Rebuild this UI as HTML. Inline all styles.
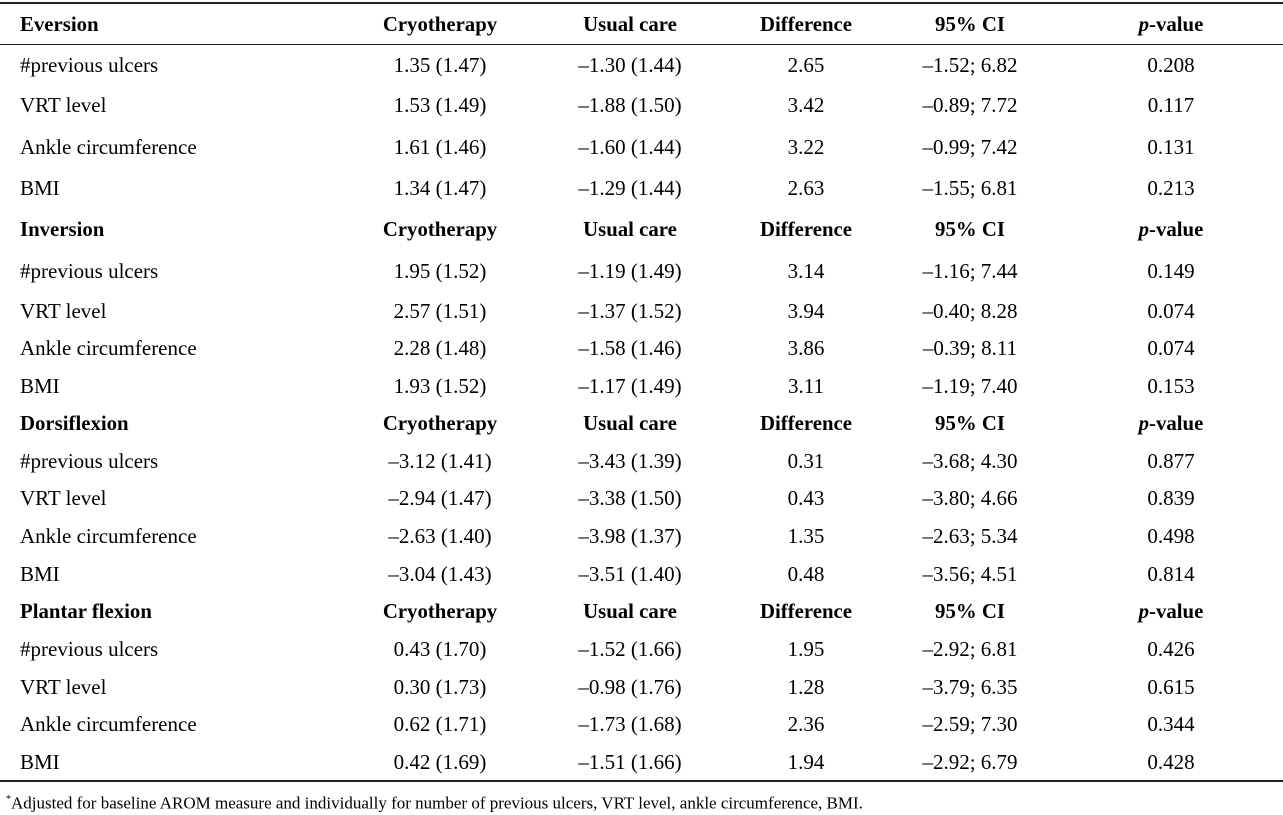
<!DOCTYPE html>
<html><head><style>
body{margin:0;background:#fff;width:1283px;height:815px;position:relative;overflow:hidden;font-family:"Liberation Serif",serif;font-size:21px;color:#000}
.r{position:absolute;left:0;width:1283px;height:24px;line-height:24px}
.r span{position:absolute;white-space:nowrap}
.l{left:20px}
.c{transform:translateX(-50%)}
.b{font-weight:bold;font-size:20.8px}
.line{position:absolute;left:0;width:1283px;background:#222}
</style></head><body>
<div class="line" style="top:2px;height:2px"></div>
<div class="line" style="top:44px;height:1px"></div>
<div class="line" style="top:780px;height:1.5px"></div>
<div id="t"></div>
<div style="position:absolute;left:6px;top:789px;font-size:17px;line-height:22px"><sup style="font-size:10px">*</sup>Adjusted for baseline AROM measure and individually for number of previous ulcers, VRT level, ankle circumference, BMI.</div>
<script>
var rows=[
[25,1,"Eversion"],[65,0,"#previous ulcers","1.35 (1.47)","\u20131.30 (1.44)","2.65","\u20131.52; 6.82","0.208"],
[105,0,"VRT level","1.53 (1.49)","\u20131.88 (1.50)","3.42","\u20130.89; 7.72","0.117"],
[147,0,"Ankle circumference","1.61 (1.46)","\u20131.60 (1.44)","3.22","\u20130.99; 7.42","0.131"],
[188,0,"BMI","1.34 (1.47)","\u20131.29 (1.44)","2.63","\u20131.55; 6.81","0.213"],
[230,1,"Inversion"],[271,0,"#previous ulcers","1.95 (1.52)","\u20131.19 (1.49)","3.14","\u20131.16; 7.44","0.149"],
[311,0,"VRT level","2.57 (1.51)","\u20131.37 (1.52)","3.94","\u20130.40; 8.28","0.074"],
[348,0,"Ankle circumference","2.28 (1.48)","\u20131.58 (1.46)","3.86","\u20130.39; 8.11","0.074"],
[386,0,"BMI","1.93 (1.52)","\u20131.17 (1.49)","3.11","\u20131.19; 7.40","0.153"],
[424,1,"Dorsiflexion"],[461,0,"#previous ulcers","\u20133.12 (1.41)","\u20133.43 (1.39)","0.31","\u20133.68; 4.30","0.877"],
[498,0,"VRT level","\u20132.94 (1.47)","\u20133.38 (1.50)","0.43","\u20133.80; 4.66","0.839"],
[536,0,"Ankle circumference","\u20132.63 (1.40)","\u20133.98 (1.37)","1.35","\u20132.63; 5.34","0.498"],
[574,0,"BMI","\u20133.04 (1.43)","\u20133.51 (1.40)","0.48","\u20133.56; 4.51","0.814"],
[612,1,"Plantar flexion"],[649,0,"#previous ulcers","0.43 (1.70)","\u20131.52 (1.66)","1.95","\u20132.92; 6.81","0.426"],
[687,0,"VRT level","0.30 (1.73)","\u20130.98 (1.76)","1.28","\u20133.79; 6.35","0.615"],
[724,0,"Ankle circumference","0.62 (1.71)","\u20131.73 (1.68)","2.36","\u20132.59; 7.30","0.344"],
[762,0,"BMI","0.42 (1.69)","\u20131.51 (1.66)","1.94","\u20132.92; 6.79","0.428"]];
var xs=[440,630,806,970,1171],h="";
rows.forEach(function(r){
 var v=r[1]?["Cryotherapy","Usual care","Difference","95% CI","<i>p</i>-value"]:r.slice(3);
 var cls=r[1]?" b":"";
 h+='<div class="r" style="top:'+(r[0]-12)+'px"><span class="l'+cls+'">'+r[2]+'</span>';
 v.forEach(function(t,i){h+='<span class="c'+cls+'" style="left:'+xs[i]+'px">'+t+'</span>';});
 h+='</div>';});
document.getElementById('t').innerHTML=h;
</script>
</body></html>
